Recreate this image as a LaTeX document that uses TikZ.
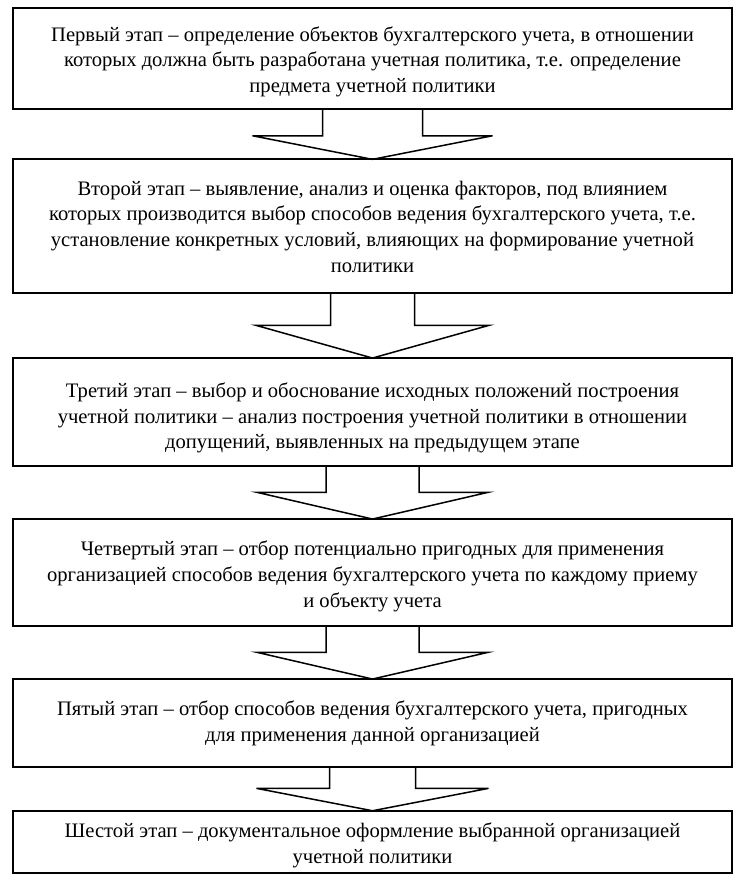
\documentclass[tikz,border=0pt]{standalone}
\usepackage{fontspec}
\setmainfont{Liberation Serif}
\usetikzlibrary{calc}
\newcommand{\stagelines}[1]{\begin{tabular}[t]{@{}c@{}}#1\end{tabular}}
\begin{document}
\begin{tikzpicture}[x=1pt,y=-1pt,
  stagebox/.style={draw=black, line width=1.8pt, minimum width=719pt,
    inner sep=0pt, outer sep=0pt},
  stagetext/.style={anchor=base, inner sep=0pt, font=\fontsize{20.6}{25.7}\selectfont},
  blockarrow/.style={draw=black, line width=1.5pt, line join=miter}]
\useasboundingbox (0,0) rectangle (752,889);
\node[stagebox, minimum height=101pt] (b1) at (372.5,58.5) {};
\node[stagebox, minimum height=133.7pt] (b2) at (372.5,226.2) {};
\node[stagebox, minimum height=107.7pt] (b3) at (372.5,411.9) {};
\node[stagebox, minimum height=106.7pt] (b4) at (372.5,572.4) {};
\node[stagebox, minimum height=87.7pt] (b5) at (372.5,722.9) {};
\node[stagebox, minimum height=62.3pt] (b6) at (372.5,841.9) {};
\node[stagetext] (t1) at (372.5,41) {\stagelines{%
  Первый этап – определение объектов бухгалтерского учета, в отношении\\
  которых должна быть разработана учетная политика, т.е. определение\\
  предмета учетной политики}};
\node[stagetext] (t2) at (372.5,195) {\stagelines{%
  Второй этап – выявление, анализ и оценка факторов, под влиянием\\
  которых производится выбор способов ведения бухгалтерского учета, т.е.\\
  установление конкретных условий, влияющих на формирование учетной\\
  политики}};
\node[stagetext] (t3) at (372.5,397.3) {\stagelines{%
  Третий этап – выбор и обоснование исходных положений построения\\
  учетной политики – анализ построения учетной политики в отношении\\
  допущений, выявленных на предыдущем этапе}};
\node[stagetext] (t4) at (372.5,555.6) {\stagelines{%
  Четвертый этап – отбор потенциально пригодных для применения\\
  организацией способов ведения бухгалтерского учета по каждому приему\\
  и объекту учета}};
\node[stagetext] (t5) at (372.5,715.6) {\stagelines{%
  Пятый этап – отбор способов ведения бухгалтерского учета, пригодных\\
  для применения данной организацией}};
\node[stagetext] (t6) at (372.5,837.3) {\stagelines{%
  Шестой этап – документальное оформление выбранной организацией\\
  учетной политики}};
% block arrows: #1 from, #2 to, #3 shaft half width, #4 head half width, #5 head height
\newcommand{\stagearrow}[5]{%
  \draw[blockarrow] ($(#1.south)+(-#3,0)$) -- ($(#2.north)+(-#3,-#5)$)
    -- ($(#2.north)+(-#4,-#5)$) -- (#2.north) -- ($(#2.north)+(#4,-#5)$)
    -- ($(#2.north)+(#3,-#5)$) -- ($(#1.south)+(#3,0)$);}
\stagearrow{b1}{b2}{50}{120}{23.6}
\stagearrow{b2}{b3}{42}{116.5}{32.7}
\stagearrow{b3}{b4}{46.5}{115.5}{26.7}
\stagearrow{b4}{b5}{46.5}{115.5}{26.7}
\stagearrow{b5}{b6}{43}{116}{22.4}
\end{tikzpicture}
\end{document}
